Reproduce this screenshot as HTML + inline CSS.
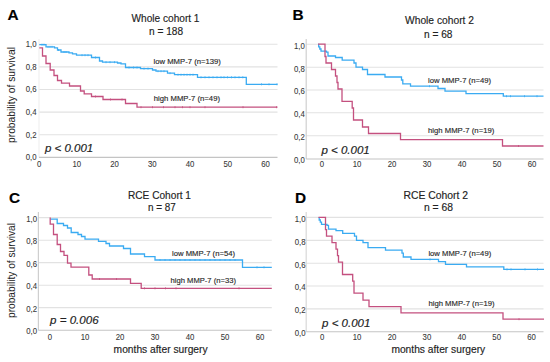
<!DOCTYPE html>
<html><head><meta charset="utf-8"><style>
html,body{margin:0;padding:0;background:#fff;width:550px;height:362px;overflow:hidden}
svg{display:block}
text{font-family:"Liberation Sans",sans-serif}
</style></head><body>
<svg width="550" height="362" viewBox="0 0 550 362" shape-rendering="geometricPrecision">
<rect width="550" height="362" fill="#fff"/>
<path d="M39,44.2H277.5" stroke="#e2e2e2" stroke-width="1.1"/>
<path d="M39,66.9H277.5" stroke="#e2e2e2" stroke-width="1.1"/>
<path d="M39,89.5H277.5" stroke="#e2e2e2" stroke-width="1.1"/>
<path d="M39,112.1H277.5" stroke="#e2e2e2" stroke-width="1.1"/>
<path d="M39,134.7H277.5" stroke="#e2e2e2" stroke-width="1.1"/>
<path d="M39,39V157.4" stroke="#f0f0f0" stroke-width="1.2"/>
<path d="M39,157.4H277.5" stroke="#c4c4c4" stroke-width="1.1"/>
<text x="36.6" y="47.1" font-size="8.4" text-anchor="end" fill="#383838" stroke="#383838" stroke-width="0.08" font-weight="normal" font-style="normal" textLength="10.84" lengthAdjust="spacingAndGlyphs">1,0</text>
<text x="36.6" y="69.8" font-size="8.4" text-anchor="end" fill="#383838" stroke="#383838" stroke-width="0.08" font-weight="normal" font-style="normal" textLength="10.84" lengthAdjust="spacingAndGlyphs">0,8</text>
<text x="36.6" y="92.4" font-size="8.4" text-anchor="end" fill="#383838" stroke="#383838" stroke-width="0.08" font-weight="normal" font-style="normal" textLength="10.84" lengthAdjust="spacingAndGlyphs">0,6</text>
<text x="36.6" y="115.0" font-size="8.4" text-anchor="end" fill="#383838" stroke="#383838" stroke-width="0.08" font-weight="normal" font-style="normal" textLength="10.84" lengthAdjust="spacingAndGlyphs">0,4</text>
<text x="36.6" y="137.6" font-size="8.4" text-anchor="end" fill="#383838" stroke="#383838" stroke-width="0.08" font-weight="normal" font-style="normal" textLength="10.84" lengthAdjust="spacingAndGlyphs">0,2</text>
<text x="36.6" y="160.3" font-size="8.4" text-anchor="end" fill="#383838" stroke="#383838" stroke-width="0.08" font-weight="normal" font-style="normal" textLength="10.84" lengthAdjust="spacingAndGlyphs">0,0</text>
<text x="39.06" y="166.8" font-size="8.4" text-anchor="middle" fill="#383838" stroke="#383838" stroke-width="0.08" font-weight="normal" font-style="normal" textLength="4.34" lengthAdjust="spacingAndGlyphs">0</text>
<text x="76.8" y="166.8" font-size="8.4" text-anchor="middle" fill="#383838" stroke="#383838" stroke-width="0.08" font-weight="normal" font-style="normal" textLength="8.68" lengthAdjust="spacingAndGlyphs">10</text>
<text x="114.54" y="166.8" font-size="8.4" text-anchor="middle" fill="#383838" stroke="#383838" stroke-width="0.08" font-weight="normal" font-style="normal" textLength="8.68" lengthAdjust="spacingAndGlyphs">20</text>
<text x="152.28" y="166.8" font-size="8.4" text-anchor="middle" fill="#383838" stroke="#383838" stroke-width="0.08" font-weight="normal" font-style="normal" textLength="8.68" lengthAdjust="spacingAndGlyphs">30</text>
<text x="190.02" y="166.8" font-size="8.4" text-anchor="middle" fill="#383838" stroke="#383838" stroke-width="0.08" font-weight="normal" font-style="normal" textLength="8.68" lengthAdjust="spacingAndGlyphs">40</text>
<text x="227.76" y="166.8" font-size="8.4" text-anchor="middle" fill="#383838" stroke="#383838" stroke-width="0.08" font-weight="normal" font-style="normal" textLength="8.68" lengthAdjust="spacingAndGlyphs">50</text>
<text x="265.5" y="166.8" font-size="8.4" text-anchor="middle" fill="#383838" stroke="#383838" stroke-width="0.08" font-weight="normal" font-style="normal" textLength="8.68" lengthAdjust="spacingAndGlyphs">60</text>
<path d="M306.2,44.2H543.5" stroke="#e2e2e2" stroke-width="1.1"/>
<path d="M306.2,67.2H543.5" stroke="#e2e2e2" stroke-width="1.1"/>
<path d="M306.2,90.0H543.5" stroke="#e2e2e2" stroke-width="1.1"/>
<path d="M306.2,112.8H543.5" stroke="#e2e2e2" stroke-width="1.1"/>
<path d="M306.2,135.7H543.5" stroke="#e2e2e2" stroke-width="1.1"/>
<path d="M306.2,39V159.0" stroke="#d0d0d0" stroke-width="1.2"/>
<path d="M306.2,159.0H543.5" stroke="#c4c4c4" stroke-width="1.1"/>
<text x="304.8" y="48.5" font-size="8.4" text-anchor="end" fill="#383838" stroke="#383838" stroke-width="0.08" font-weight="normal" font-style="normal" textLength="10.84" lengthAdjust="spacingAndGlyphs">1,0</text>
<text x="304.8" y="71.5" font-size="8.4" text-anchor="end" fill="#383838" stroke="#383838" stroke-width="0.08" font-weight="normal" font-style="normal" textLength="10.84" lengthAdjust="spacingAndGlyphs">0,8</text>
<text x="304.8" y="94.3" font-size="8.4" text-anchor="end" fill="#383838" stroke="#383838" stroke-width="0.08" font-weight="normal" font-style="normal" textLength="10.84" lengthAdjust="spacingAndGlyphs">0,6</text>
<text x="304.8" y="117.1" font-size="8.4" text-anchor="end" fill="#383838" stroke="#383838" stroke-width="0.08" font-weight="normal" font-style="normal" textLength="10.84" lengthAdjust="spacingAndGlyphs">0,4</text>
<text x="304.8" y="140.0" font-size="8.4" text-anchor="end" fill="#383838" stroke="#383838" stroke-width="0.08" font-weight="normal" font-style="normal" textLength="10.84" lengthAdjust="spacingAndGlyphs">0,2</text>
<text x="304.8" y="163.3" font-size="8.4" text-anchor="end" fill="#383838" stroke="#383838" stroke-width="0.08" font-weight="normal" font-style="normal" textLength="10.84" lengthAdjust="spacingAndGlyphs">0,0</text>
<text x="322.0" y="166.8" font-size="8.4" text-anchor="middle" fill="#383838" stroke="#383838" stroke-width="0.08" font-weight="normal" font-style="normal" textLength="4.34" lengthAdjust="spacingAndGlyphs">0</text>
<text x="357.0" y="166.8" font-size="8.4" text-anchor="middle" fill="#383838" stroke="#383838" stroke-width="0.08" font-weight="normal" font-style="normal" textLength="8.68" lengthAdjust="spacingAndGlyphs">10</text>
<text x="392.0" y="166.8" font-size="8.4" text-anchor="middle" fill="#383838" stroke="#383838" stroke-width="0.08" font-weight="normal" font-style="normal" textLength="8.68" lengthAdjust="spacingAndGlyphs">20</text>
<text x="427.0" y="166.8" font-size="8.4" text-anchor="middle" fill="#383838" stroke="#383838" stroke-width="0.08" font-weight="normal" font-style="normal" textLength="8.68" lengthAdjust="spacingAndGlyphs">30</text>
<text x="462.0" y="166.8" font-size="8.4" text-anchor="middle" fill="#383838" stroke="#383838" stroke-width="0.08" font-weight="normal" font-style="normal" textLength="8.68" lengthAdjust="spacingAndGlyphs">40</text>
<text x="497.0" y="166.8" font-size="8.4" text-anchor="middle" fill="#383838" stroke="#383838" stroke-width="0.08" font-weight="normal" font-style="normal" textLength="8.68" lengthAdjust="spacingAndGlyphs">50</text>
<text x="532.0" y="166.8" font-size="8.4" text-anchor="middle" fill="#383838" stroke="#383838" stroke-width="0.08" font-weight="normal" font-style="normal" textLength="8.68" lengthAdjust="spacingAndGlyphs">60</text>
<path d="M38.4,217.6H271.8" stroke="#e2e2e2" stroke-width="1.1"/>
<path d="M38.4,240.2H271.8" stroke="#e2e2e2" stroke-width="1.1"/>
<path d="M38.4,262.6H271.8" stroke="#e2e2e2" stroke-width="1.1"/>
<path d="M38.4,285.2H271.8" stroke="#e2e2e2" stroke-width="1.1"/>
<path d="M38.4,307.6H271.8" stroke="#e2e2e2" stroke-width="1.1"/>
<path d="M38.4,212V330.2" stroke="#cfcfcf" stroke-width="1.2"/>
<path d="M38.4,330.2H271.8" stroke="#c4c4c4" stroke-width="1.1"/>
<text x="37" y="221.6" font-size="8.4" text-anchor="end" fill="#383838" stroke="#383838" stroke-width="0.08" font-weight="normal" font-style="normal" textLength="10.84" lengthAdjust="spacingAndGlyphs">1,0</text>
<text x="37" y="244.2" font-size="8.4" text-anchor="end" fill="#383838" stroke="#383838" stroke-width="0.08" font-weight="normal" font-style="normal" textLength="10.84" lengthAdjust="spacingAndGlyphs">0,8</text>
<text x="37" y="266.6" font-size="8.4" text-anchor="end" fill="#383838" stroke="#383838" stroke-width="0.08" font-weight="normal" font-style="normal" textLength="10.84" lengthAdjust="spacingAndGlyphs">0,6</text>
<text x="37" y="289.2" font-size="8.4" text-anchor="end" fill="#383838" stroke="#383838" stroke-width="0.08" font-weight="normal" font-style="normal" textLength="10.84" lengthAdjust="spacingAndGlyphs">0,4</text>
<text x="37" y="311.6" font-size="8.4" text-anchor="end" fill="#383838" stroke="#383838" stroke-width="0.08" font-weight="normal" font-style="normal" textLength="10.84" lengthAdjust="spacingAndGlyphs">0,2</text>
<text x="37" y="334.2" font-size="8.4" text-anchor="end" fill="#383838" stroke="#383838" stroke-width="0.08" font-weight="normal" font-style="normal" textLength="10.84" lengthAdjust="spacingAndGlyphs">0,0</text>
<text x="50.0" y="339.8" font-size="8.4" text-anchor="middle" fill="#383838" stroke="#383838" stroke-width="0.08" font-weight="normal" font-style="normal" textLength="4.34" lengthAdjust="spacingAndGlyphs">0</text>
<text x="85.0" y="339.8" font-size="8.4" text-anchor="middle" fill="#383838" stroke="#383838" stroke-width="0.08" font-weight="normal" font-style="normal" textLength="8.68" lengthAdjust="spacingAndGlyphs">10</text>
<text x="120.0" y="339.8" font-size="8.4" text-anchor="middle" fill="#383838" stroke="#383838" stroke-width="0.08" font-weight="normal" font-style="normal" textLength="8.68" lengthAdjust="spacingAndGlyphs">20</text>
<text x="155.0" y="339.8" font-size="8.4" text-anchor="middle" fill="#383838" stroke="#383838" stroke-width="0.08" font-weight="normal" font-style="normal" textLength="8.68" lengthAdjust="spacingAndGlyphs">30</text>
<text x="190.0" y="339.8" font-size="8.4" text-anchor="middle" fill="#383838" stroke="#383838" stroke-width="0.08" font-weight="normal" font-style="normal" textLength="8.68" lengthAdjust="spacingAndGlyphs">40</text>
<text x="225.0" y="339.8" font-size="8.4" text-anchor="middle" fill="#383838" stroke="#383838" stroke-width="0.08" font-weight="normal" font-style="normal" textLength="8.68" lengthAdjust="spacingAndGlyphs">50</text>
<text x="260.0" y="339.8" font-size="8.4" text-anchor="middle" fill="#383838" stroke="#383838" stroke-width="0.08" font-weight="normal" font-style="normal" textLength="8.68" lengthAdjust="spacingAndGlyphs">60</text>
<path d="M306.2,217.4H543.5" stroke="#e2e2e2" stroke-width="1.1"/>
<path d="M306.2,240.4H543.5" stroke="#e2e2e2" stroke-width="1.1"/>
<path d="M306.2,263.2H543.5" stroke="#e2e2e2" stroke-width="1.1"/>
<path d="M306.2,286.0H543.5" stroke="#e2e2e2" stroke-width="1.1"/>
<path d="M306.2,308.9H543.5" stroke="#e2e2e2" stroke-width="1.1"/>
<path d="M306.2,212V331.8" stroke="#d8d8d8" stroke-width="1.2"/>
<path d="M306.2,331.8H543.5" stroke="#c4c4c4" stroke-width="1.1"/>
<text x="305.5" y="221.7" font-size="8.4" text-anchor="end" fill="#383838" stroke="#383838" stroke-width="0.08" font-weight="normal" font-style="normal" textLength="10.84" lengthAdjust="spacingAndGlyphs">1,0</text>
<text x="305.5" y="244.7" font-size="8.4" text-anchor="end" fill="#383838" stroke="#383838" stroke-width="0.08" font-weight="normal" font-style="normal" textLength="10.84" lengthAdjust="spacingAndGlyphs">0,8</text>
<text x="305.5" y="267.5" font-size="8.4" text-anchor="end" fill="#383838" stroke="#383838" stroke-width="0.08" font-weight="normal" font-style="normal" textLength="10.84" lengthAdjust="spacingAndGlyphs">0,6</text>
<text x="305.5" y="290.3" font-size="8.4" text-anchor="end" fill="#383838" stroke="#383838" stroke-width="0.08" font-weight="normal" font-style="normal" textLength="10.84" lengthAdjust="spacingAndGlyphs">0,4</text>
<text x="305.5" y="313.2" font-size="8.4" text-anchor="end" fill="#383838" stroke="#383838" stroke-width="0.08" font-weight="normal" font-style="normal" textLength="10.84" lengthAdjust="spacingAndGlyphs">0,2</text>
<text x="305.5" y="336.1" font-size="8.4" text-anchor="end" fill="#383838" stroke="#383838" stroke-width="0.08" font-weight="normal" font-style="normal" textLength="10.84" lengthAdjust="spacingAndGlyphs">0,0</text>
<text x="322.2" y="340.0" font-size="8.4" text-anchor="middle" fill="#383838" stroke="#383838" stroke-width="0.08" font-weight="normal" font-style="normal" textLength="4.34" lengthAdjust="spacingAndGlyphs">0</text>
<text x="357.1" y="340.0" font-size="8.4" text-anchor="middle" fill="#383838" stroke="#383838" stroke-width="0.08" font-weight="normal" font-style="normal" textLength="8.68" lengthAdjust="spacingAndGlyphs">10</text>
<text x="392.0" y="340.0" font-size="8.4" text-anchor="middle" fill="#383838" stroke="#383838" stroke-width="0.08" font-weight="normal" font-style="normal" textLength="8.68" lengthAdjust="spacingAndGlyphs">20</text>
<text x="426.9" y="340.0" font-size="8.4" text-anchor="middle" fill="#383838" stroke="#383838" stroke-width="0.08" font-weight="normal" font-style="normal" textLength="8.68" lengthAdjust="spacingAndGlyphs">30</text>
<text x="461.8" y="340.0" font-size="8.4" text-anchor="middle" fill="#383838" stroke="#383838" stroke-width="0.08" font-weight="normal" font-style="normal" textLength="8.68" lengthAdjust="spacingAndGlyphs">40</text>
<text x="496.7" y="340.0" font-size="8.4" text-anchor="middle" fill="#383838" stroke="#383838" stroke-width="0.08" font-weight="normal" font-style="normal" textLength="8.68" lengthAdjust="spacingAndGlyphs">50</text>
<text x="531.6" y="340.0" font-size="8.4" text-anchor="middle" fill="#383838" stroke="#383838" stroke-width="0.08" font-weight="normal" font-style="normal" textLength="8.68" lengthAdjust="spacingAndGlyphs">60</text>
<g transform="translate(0,0)">
<path d="M39.3,44.7H46.0V46.8H54.5V47.8H57.5V50.0H61.0V52.0H69.0V52.8H72.5V53.8H76.5V55.2H91.5V57.5H99.5V61.0H102.5V62.2H117.5V63.0H121.0V63.8H125.5V67.5H140.5V68.6H152.5V70.0H156.0V71.2H167.5V73.2H174.5V74.7H197.5V77.3H246.3V84.3H277.5" stroke="#3aabf2" stroke-width="1.3" fill="none" stroke-linejoin="miter"/>
<path d="M42.0,43.7V45.7M44.0,43.7V45.7M48.0,45.8V47.8M50.0,45.8V47.8M52.0,45.8V47.8M58.5,49.0V51.0M64.0,51.0V53.0M66.0,51.0V53.0M82.0,54.2V56.2M85.0,54.2V56.2M88.0,54.2V56.2M95.5,56.5V58.5M106.0,61.2V63.2M110.0,61.2V63.2M114.5,61.2V63.2M129.0,66.5V68.5M133.5,66.5V68.5M137.0,66.5V68.5M144.0,67.6V69.6M148.0,67.6V69.6M158.0,70.2V72.2M161.0,70.2V72.2M164.0,70.2V72.2M170.0,72.2V74.2M178.0,73.7V75.7M181.0,73.7V75.7M184.0,73.7V75.7M187.0,73.7V75.7M190.0,73.7V75.7M193.0,73.7V75.7M201.0,76.3V78.3M205.0,76.3V78.3M209.0,76.3V78.3M213.0,76.3V78.3M217.0,76.3V78.3M221.0,76.3V78.3M224.0,76.3V78.3M227.5,76.3V78.3M231.5,76.3V78.3M235.0,76.3V78.3M239.0,76.3V78.3M242.8,76.3V78.3M261.5,83.3V85.3M269.0,83.3V85.3M277.0,83.3V85.3" stroke="#3aabf2" stroke-width="0.8" fill="none"/>
<path d="M39.3,47.9H42.5V56.0H46.0V63.5H50.2V70.0H54.0V75.5H57.5V80.5H61.5V83.2H69.5V86.0H80.5V91.0H84.2V93.8H91.5V96.5H103.0V99.5H125.5V103.5H137.0V107.2H277.5" stroke="#c4507f" stroke-width="1.3" fill="none" stroke-linejoin="miter"/>
<path d="M95.5,95.5V97.5M110.5,98.5V100.5M122.0,98.5V100.5M141.0,106.2V108.2M152.5,106.2V108.2M163.5,106.2V108.2M175.0,106.2V108.2M182.5,106.2V108.2M190.0,106.2V108.2M205.0,106.2V108.2M243.0,106.2V108.2M276.5,106.2V108.2" stroke="#c4507f" stroke-width="0.8" fill="none"/>
</g>
<g transform="translate(0,0)">
<path d="M318.0,44.5H318.7V46.8H319.8V49.0H321.0V51.2H326.5V52.2H328.0V56.0H335.5V57.5H342.2V60.2H354.0V63.0H356.0V67.2H362.5V69.5H367.5V74.5H385.0V77.0H401.5V80.0H402.8V83.8H410.5V86.2H438.0V88.5H445.0V91.2H466.0V93.7H503.3V96.2H543.5" stroke="#3aabf2" stroke-width="1.3" fill="none" stroke-linejoin="miter"/>
<path d="M429.5,85.2V87.2M506.5,95.2V97.2M510.5,95.2V97.2M524.5,95.2V97.2M537.0,95.2V97.2" stroke="#3aabf2" stroke-width="0.8" fill="none"/>
<path d="M318.0,44.2H325.0V56.5H326.0V63.0H331.5V69.5H335.5V76.0H337.0V82.5H338.0V89.0H342.0V101.3H352.2V108.0H353.5V120.0H362.5V127.0H368.5V133.5H400.5V139.7H502.5V146.0H543.5" stroke="#c4507f" stroke-width="1.3" fill="none" stroke-linejoin="miter"/>
<path d="M518.5,145.0V147.0" stroke="#c4507f" stroke-width="0.8" fill="none"/>
</g>
<g transform="translate(0,0)">
<path d="M50.5,219.2H57.2V223.5H63.5V225.5H67.5V228.0H71.2V232.5H78.0V234.5H81.5V236.5H85.0V239.2H98.5V241.3H106.0V243.5H109.5V246.0H123.5V248.5H130.5V254.0H144.5V256.6H155.0V260.0H242.5V267.3H271.8" stroke="#3aabf2" stroke-width="1.3" fill="none" stroke-linejoin="miter"/>
<path d="M160.0,259.0V261.0M165.0,259.0V261.0M170.0,259.0V261.0M175.0,259.0V261.0M180.0,259.0V261.0M185.0,259.0V261.0M190.0,259.0V261.0M195.0,259.0V261.0M200.0,259.0V261.0M205.0,259.0V261.0M210.0,259.0V261.0M215.0,259.0V261.0M220.0,259.0V261.0M225.0,259.0V261.0M230.0,259.0V261.0M235.0,259.0V261.0M257.0,266.3V268.3M264.0,266.3V268.3" stroke="#3aabf2" stroke-width="0.8" fill="none"/>
<path d="M50.2,217.5H50.2V224.2H53.5V234.5H57.2V244.5H60.5V251.5H64.0V255.3H67.5V263.2H71.0V267.2H88.8V275.0H92.2V279.0H130.5V283.3H141.2V288.3H271.8" stroke="#c4507f" stroke-width="1.3" fill="none" stroke-linejoin="miter"/>
<path d="M99.5,278.0V280.0M116.5,278.0V280.0M144.5,287.3V289.3M155.0,287.3V289.3M165.5,287.3V289.3M176.0,287.3V289.3M239.0,287.3V289.3" stroke="#c4507f" stroke-width="0.8" fill="none"/>
</g>
<g transform="translate(0.5,173.2)">
<path d="M318.0,44.5H318.7V46.8H319.8V49.0H321.0V51.2H326.5V52.2H328.0V56.0H335.5V57.5H342.2V60.2H354.0V63.0H356.0V67.2H362.5V69.5H367.5V74.5H385.0V77.0H401.5V80.0H402.8V83.8H410.5V86.2H438.0V88.5H445.0V91.2H466.0V93.7H503.3V96.2H543.5" stroke="#3aabf2" stroke-width="1.3" fill="none" stroke-linejoin="miter"/>
<path d="M429.5,85.2V87.2M506.5,95.2V97.2M510.5,95.2V97.2M524.5,95.2V97.2M537.0,95.2V97.2" stroke="#3aabf2" stroke-width="0.8" fill="none"/>
<path d="M318.0,44.2H325.0V56.5H326.0V63.0H331.5V69.5H335.5V76.0H337.0V82.5H338.0V89.0H342.0V101.3H352.2V108.0H353.5V120.0H362.5V127.0H368.5V133.5H400.5V139.7H502.5V146.0H543.5" stroke="#c4507f" stroke-width="1.3" fill="none" stroke-linejoin="miter"/>
<path d="M518.5,145.0V147.0" stroke="#c4507f" stroke-width="0.8" fill="none"/>
</g>
<text x="7.6" y="20.3" font-size="15.4" text-anchor="start" fill="#000" stroke="#000" stroke-width="0.15" font-weight="bold" font-style="normal">A</text>
<text x="292.6" y="20.3" font-size="15.4" text-anchor="start" fill="#000" stroke="#000" stroke-width="0.15" font-weight="bold" font-style="normal">B</text>
<text x="9.0" y="203.2" font-size="15.4" text-anchor="start" fill="#000" stroke="#000" stroke-width="0.15" font-weight="bold" font-style="normal">C</text>
<text x="295.0" y="203.4" font-size="15.4" text-anchor="start" fill="#000" stroke="#000" stroke-width="0.15" font-weight="bold" font-style="normal">D</text>
<text x="131.5" y="22.2" font-size="10.5" text-anchor="start" fill="#222" stroke="#222" stroke-width="0.15" font-weight="normal" font-style="normal" textLength="68" lengthAdjust="spacingAndGlyphs">Whole cohort 1</text>
<text x="149" y="34.9" font-size="10.6" text-anchor="start" fill="#222" stroke="#222" stroke-width="0.15" font-weight="normal" font-style="normal" textLength="34" lengthAdjust="spacingAndGlyphs">n = 188</text>
<text x="405" y="24.4" font-size="10.5" text-anchor="start" fill="#222" stroke="#222" stroke-width="0.15" font-weight="normal" font-style="normal" textLength="69" lengthAdjust="spacingAndGlyphs">Whole cohort 2</text>
<text x="424" y="37.7" font-size="10.6" text-anchor="start" fill="#222" stroke="#222" stroke-width="0.15" font-weight="normal" font-style="normal" textLength="28.4" lengthAdjust="spacingAndGlyphs">n = 68</text>
<text x="128" y="198.9" font-size="10.5" text-anchor="start" fill="#222" stroke="#222" stroke-width="0.15" font-weight="normal" font-style="normal" textLength="63" lengthAdjust="spacingAndGlyphs">RCE Cohort 1</text>
<text x="148" y="210.6" font-size="10.6" text-anchor="start" fill="#222" stroke="#222" stroke-width="0.15" font-weight="normal" font-style="normal" textLength="27.8" lengthAdjust="spacingAndGlyphs">n = 87</text>
<text x="403.4" y="198.8" font-size="10.5" text-anchor="start" fill="#222" stroke="#222" stroke-width="0.15" font-weight="normal" font-style="normal" textLength="64.6" lengthAdjust="spacingAndGlyphs">RCE Cohort 2</text>
<text x="424" y="210.7" font-size="10.6" text-anchor="start" fill="#222" stroke="#222" stroke-width="0.15" font-weight="normal" font-style="normal" textLength="29" lengthAdjust="spacingAndGlyphs">n = 68</text>
<text x="153.5" y="63.8" font-size="7.7" text-anchor="start" fill="#2a2a2a" stroke="#2a2a2a" stroke-width="0.15" font-weight="normal" font-style="normal" textLength="67.4" lengthAdjust="spacingAndGlyphs">low MMP-7 (n=139)</text>
<text x="153.8" y="101.4" font-size="7.7" text-anchor="start" fill="#2a2a2a" stroke="#2a2a2a" stroke-width="0.15" font-weight="normal" font-style="normal" textLength="66.2" lengthAdjust="spacingAndGlyphs">high MMP-7 (n=49)</text>
<text x="428" y="82.9" font-size="7.7" text-anchor="start" fill="#2a2a2a" stroke="#2a2a2a" stroke-width="0.15" font-weight="normal" font-style="normal" textLength="63" lengthAdjust="spacingAndGlyphs">low MMP-7 (n=49)</text>
<text x="428" y="132.6" font-size="7.7" text-anchor="start" fill="#2a2a2a" stroke="#2a2a2a" stroke-width="0.15" font-weight="normal" font-style="normal" textLength="66.3" lengthAdjust="spacingAndGlyphs">high MMP-7 (n=19)</text>
<text x="172" y="255.6" font-size="7.7" text-anchor="start" fill="#2a2a2a" stroke="#2a2a2a" stroke-width="0.15" font-weight="normal" font-style="normal" textLength="63" lengthAdjust="spacingAndGlyphs">low MMP-7 (n=54)</text>
<text x="170.5" y="282.8" font-size="7.7" text-anchor="start" fill="#2a2a2a" stroke="#2a2a2a" stroke-width="0.15" font-weight="normal" font-style="normal" textLength="65.5" lengthAdjust="spacingAndGlyphs">high MMP-7 (n=33)</text>
<text x="428.4" y="255.9" font-size="7.7" text-anchor="start" fill="#2a2a2a" stroke="#2a2a2a" stroke-width="0.15" font-weight="normal" font-style="normal" textLength="62.8" lengthAdjust="spacingAndGlyphs">low MMP-7 (n=49)</text>
<text x="428.4" y="306.0" font-size="7.7" text-anchor="start" fill="#2a2a2a" stroke="#2a2a2a" stroke-width="0.15" font-weight="normal" font-style="normal" textLength="66.2" lengthAdjust="spacingAndGlyphs">high MMP-7 (n=19)</text>
<text x="44.9" y="151.8" font-size="11" text-anchor="start" fill="#222" stroke="#222" stroke-width="0.15" font-weight="normal" font-style="italic" textLength="48.4" lengthAdjust="spacingAndGlyphs">p &lt; 0.001</text>
<text x="321.4" y="153.6" font-size="11" text-anchor="start" fill="#222" stroke="#222" stroke-width="0.15" font-weight="normal" font-style="italic" textLength="48.4" lengthAdjust="spacingAndGlyphs">p &lt; 0.001</text>
<text x="50" y="324.0" font-size="11" text-anchor="start" fill="#222" stroke="#222" stroke-width="0.15" font-weight="normal" font-style="italic" textLength="48.6" lengthAdjust="spacingAndGlyphs">p = 0.006</text>
<text x="322.1" y="327.0" font-size="11" text-anchor="start" fill="#222" stroke="#222" stroke-width="0.15" font-weight="normal" font-style="italic" textLength="48.2" lengthAdjust="spacingAndGlyphs">p &lt; 0.001</text>
<text transform="translate(14.9,143) rotate(-90)" font-size="10.2" fill="#222" textLength="96" lengthAdjust="spacingAndGlyphs">probability of survival</text>
<text transform="translate(14.9,318) rotate(-90)" font-size="10.2" fill="#222" textLength="95" lengthAdjust="spacingAndGlyphs">probability of survival</text>
<text x="113.6" y="352.5" font-size="10.2" text-anchor="start" fill="#222" stroke="#222" stroke-width="0.15" font-weight="normal" font-style="normal" textLength="94" lengthAdjust="spacingAndGlyphs">months after surgery</text>
<text x="391.4" y="352.5" font-size="10.2" text-anchor="start" fill="#222" stroke="#222" stroke-width="0.15" font-weight="normal" font-style="normal" textLength="93.8" lengthAdjust="spacingAndGlyphs">months after surgery</text>
</svg>
</body></html>
